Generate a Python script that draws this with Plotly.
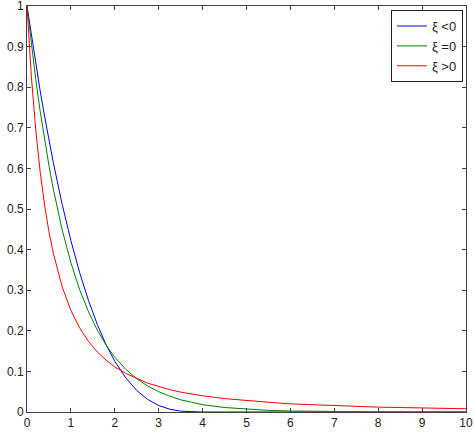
import plotly.graph_objects as go

# valores
x = [0, 0.1, 0.2, 0.3, 0.4, 0.5, 0.6, 0.8, 1.0, 1.2, 1.4, 1.6, 1.8, 2.0,
     2.25, 2.5, 2.75, 3.0, 3.25, 3.5, 3.75, 4.0, 4.5, 5, 5.5, 6, 7, 8, 9, 10]

y_neg = [1.0, 0.927, 0.857, 0.791, 0.729, 0.670, 0.614, 0.512, 0.422, 0.343,
         0.275, 0.216, 0.166, 0.125, 0.084, 0.053, 0.031, 0.016, 0.007, 0.002,
         0.0002, 0, 0, 0, 0, 0, 0, 0, 0, 0]

y_zero = [1.0, 0.905, 0.819, 0.741, 0.670, 0.607, 0.549, 0.449, 0.368, 0.301,
          0.247, 0.202, 0.165, 0.135, 0.105, 0.082, 0.064, 0.050, 0.039, 0.030,
          0.024, 0.018, 0.011, 0.007, 0.004, 0.0025, 0.001, 0.0003, 0.0001, 0.00005]

y_pos = [1.0, 0.826, 0.694, 0.592, 0.510, 0.444, 0.391, 0.309, 0.250, 0.207,
         0.174, 0.148, 0.128, 0.111, 0.095, 0.082, 0.071, 0.063, 0.055, 0.049,
         0.044, 0.040, 0.033, 0.028, 0.024, 0.020, 0.016, 0.012, 0.010, 0.008]

series = [
    ('\u03be <0', y_neg, '#0000ff'),
    ('\u03be =0', y_zero, '#008000'),
    ('\u03be >0', y_pos, '#ff0000'),
]

fig = go.Figure()
for name, ys, color in series:
    fig.add_trace(go.Scatter(x=x, y=ys, mode='lines', name=name,
                             line=dict(color=color, width=1)))

eje = dict(showgrid=False, zeroline=False, showline=True, mirror='ticks',
           linecolor='#404040', linewidth=1, ticks='inside', ticklen=4,
           tickcolor='#404040', automargin=False, ticklabeloverflow='allow',
           tickfont=dict(family='Liberation Sans', size=12, color='#222'))

fig.update_layout(
    width=474, height=436,
    margin=dict(l=27, r=8, t=6, b=24),
    plot_bgcolor='white', paper_bgcolor='white',
    xaxis=dict(range=[0, 10], dtick=1, **eje),
    yaxis=dict(range=[0, 1], dtick=0.1, **eje),
    legend=dict(x=0.993, y=0.99, xanchor='right', yanchor='top',
                bordercolor='#222', borderwidth=1, bgcolor='white',
                font=dict(family='Liberation Sans', size=13, color='#222'),
                tracegroupgap=0, itemwidth=30),
    showlegend=True,
)

# quitar el margen por defecto del body
fig.write_html("out.html", config={'displayModeBar': False},
               post_script="document.body.style.margin='0';")
